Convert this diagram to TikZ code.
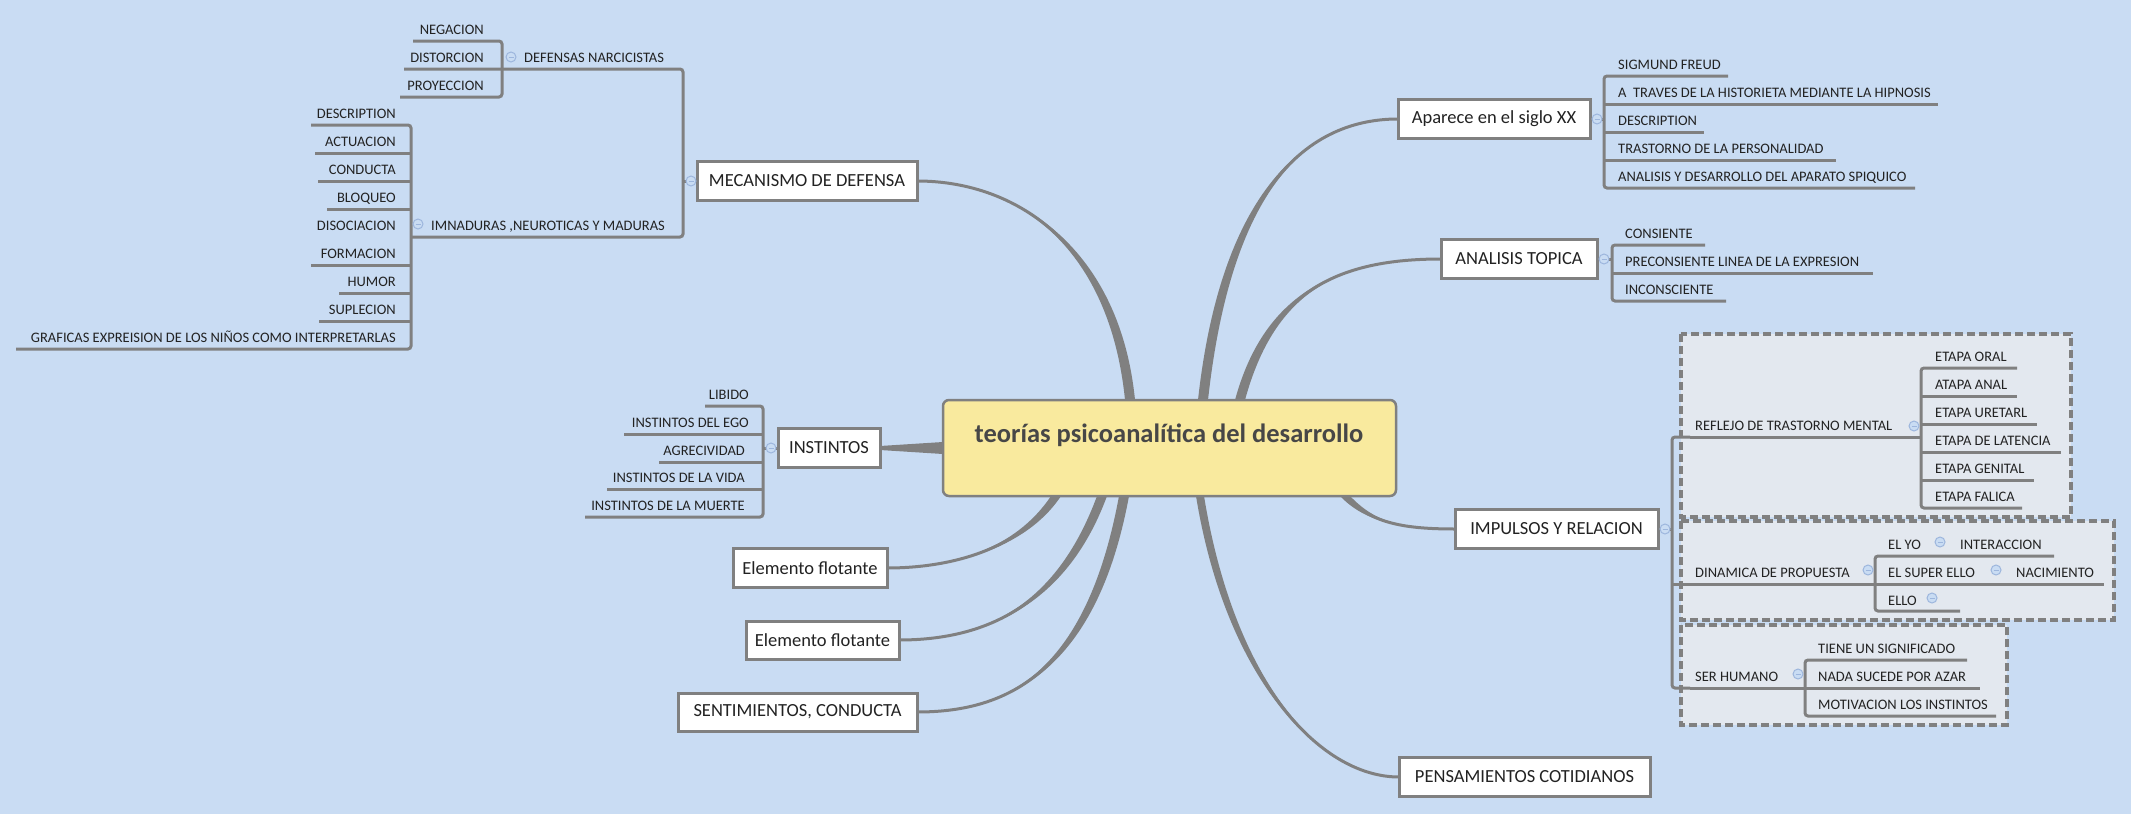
\documentclass[tikz,border=0pt]{standalone}
\usepackage{fontspec}
\setmainfont{Carlito}
\definecolor{bg}{HTML}{C9DCF3}
\definecolor{ln}{HTML}{808080}
\definecolor{cbox}{HTML}{F9EA9E}
\definecolor{dbox}{HTML}{E3E8EF}
\definecolor{tog}{HTML}{9DB6DD}
\definecolor{txt}{HTML}{222222}
\tikzset{
 lbl/.style={inner sep=0pt,font=\fontsize{14.5}{15}\selectfont,text=txt},
 tline/.style={draw=ln,line width=3pt,rounded corners=3pt},
 bbox/.style={draw=ln,line width=3pt,fill=white,inner sep=0pt,font=\fontsize{18.5}{19}\selectfont,text=txt},
 dash box/.style={draw=ln,line width=3.5pt,dash pattern=on 8pt off 4pt,fill=dbox},
}
\newcommand\tog[3]{\node[circle,draw=tog,fill=bg,inner sep=0pt,minimum size=10pt,line width=1pt] (#1) at (#2,#3) {};\draw[tog,line width=1pt] (#2-2.5,#3) -- (#2+2.5,#3);}
\newcommand\taper[9]{\fill[ln] (#1-#9,#2) .. controls (#5-#9,#6) and (#7,#8) .. (#3,#4) .. controls (#7,#8) and (#5+#9,#6) .. (#1+#9,#2) -- cycle;
 \draw[ln,line width=3pt] (#1,#2) .. controls (#5,#6) and (#7,#8) .. (#3,#4);}
\begin{document}
\begin{tikzpicture}[x=1pt,y=-1pt]
\fill[bg] (0,0) rectangle (2131,814);
\useasboundingbox (0,0) rectangle (2131,814);

% dashed group boxes
\draw[dash box] (1681,334) rectangle (2071,517);
\draw[dash box] (1681,521) rectangle (2114,620);
\draw[dash box] (1681,625) rectangle (2007,725);

% connectors from centre
\taper{1130}{400}{917}{181}{1115}{250}{1020}{181}{5}
\taper{1203}{400}{1398}{119}{1225}{200}{1300}{119}{5}
\taper{1240}{400}{1441}{259}{1270}{290}{1340}{259}{5}
\taper{1345}{496}{1455}{529}{1370}{522}{1400}{529}{5}
\taper{1200}{496}{1399}{777}{1230}{680}{1320}{777}{4}
\fill[ln] (943,442) -- (880,446) -- (880,450) -- (943,454) -- cycle;
\taper{1056}{496}{887}{568}{1020}{550}{950}{568}{5}
\taper{1102}{496}{899}{640}{1060}{610}{980}{640}{5}
\taper{1124}{496}{917}{712}{1090}{680}{1000}{712}{5}

% centre
\node[draw=ln,line width=2.5pt,fill=cbox,rounded corners=6pt,minimum width=453pt,minimum height=96pt,inner sep=0pt] (c) at (1169.5,448) {};
\node[inner sep=0pt,font=\fontsize{26.5}{27}\bfseries,text=black!72] (title) at (1169,435) {teorías psicoanalítica del desarrollo};

% main branch boxes
\node[bbox,minimum width=220pt,minimum height=39pt] (mec) at (807,181) {MECANISMO DE DEFENSA};
\node[bbox,minimum width=192pt,minimum height=39pt] (apa) at (1494,119) {Aparece en el siglo XX};
\node[bbox,minimum width=156pt,minimum height=39pt] (ana) at (1519,259) {ANALISIS TOPICA};
\node[bbox,minimum width=203pt,minimum height=39pt] (imp) at (1556.5,529) {IMPULSOS Y RELACION};
\node[bbox,minimum width=251pt,minimum height=39pt] (pen) at (1524.5,777) {PENSAMIENTOS COTIDIANOS};
\node[bbox,minimum width=102pt,minimum height=39pt] (ins) at (829,448) {INSTINTOS};
\node[bbox,minimum width=154pt,minimum height=39pt] (el1) at (810,568) {Elemento flotante};
\node[bbox,minimum width=153pt,minimum height=38pt] (el2) at (822.5,640) {Elemento flotante};
\node[bbox,minimum width=239pt,minimum height=38pt] (sen) at (797.5,712) {SENTIMIENTOS, CONDUCTA};

% ---------- MECANISMO DE DEFENSA
\draw[tline] (mec.west) -- (683,181);
\draw[tline] (413,41) -- (502,41) -- (502,97) -- (400,97);
\draw[tline] (404,69) -- (683,69) -- (683,237) -- (411,237);
\draw[tline] (311,125) -- (411,125) -- (411,349) -- (16,349);
\foreach \y/\x in {153/315,181/318,209/327,265/311,293/339,321/319} \draw[tline] (\x,\y) -- (411,\y);
\node[lbl,anchor=base east] (n1) at (484,34) {NEGACION};
\node[lbl,anchor=base east] (n2) at (484,62) {DISTORCION};
\node[lbl,anchor=base east] (n3) at (484,90) {PROYECCION};
\node[lbl,anchor=base west] (dn) at (524,62) {DEFENSAS NARCICISTAS};
\node[lbl,anchor=base west] (im) at (431,230) {IMNADURAS ,NEUROTICAS Y MADURAS};
\foreach \t [count=\i] in {DESCRIPTION,ACTUACION,CONDUCTA,BLOQUEO,DISOCIACION,FORMACION,HUMOR,SUPLECION,GRAFICAS EXPREISION DE LOS NIÑOS COMO INTERPRETARLAS}
  \node[lbl,anchor=base east] (m\i) at (396,90+28*\i) {\t};
\tog{t1}{691}{181}\tog{t2}{511}{57}\tog{t3}{418}{224}

% ---------- Aparece
\draw[tline] (apa.east) -- (1604,119);
\draw[tline] (1728,76) -- (1604,76) -- (1604,188) -- (1915,188);
\foreach \y/\x in {104/1938,132/1704,160/1836} \draw[tline] (1604,\y) -- (\x,\y);
\foreach \t [count=\i] in {SIGMUND FREUD,A\ \ TRAVES DE LA HISTORIETA MEDIANTE LA HIPNOSIS,DESCRIPTION,TRASTORNO DE LA PERSONALIDAD,ANALISIS Y DESARROLLO DEL APARATO SPIQUICO}
  \node[lbl,anchor=base west] (a\i) at (1618,41+28*\i) {\t};
\tog{t4}{1597}{119}

% ---------- ANALISIS TOPICA
\draw[tline] (ana.east) -- (1612,259);
\draw[tline] (1705,245) -- (1612,245) -- (1612,301) -- (1726,301);
\draw[tline] (1612,273) -- (1873,273);
\foreach \t [count=\i] in {CONSIENTE,PRECONSIENTE LINEA DE LA EXPRESION,INCONSCIENTE}
  \node[lbl,anchor=base west] (b\i) at (1625,210+28*\i) {\t};
\tog{t5}{1604}{259}

% ---------- IMPULSOS Y RELACION
\draw[tline] (imp.east) -- (1672,529);
\draw[tline] (1690,437) -- (1672,437) -- (1672,688) -- (1690,688);
\draw[tline] (1672,584) -- (1690,584);
\draw[tline] (1690,437) -- (1921,437);
\draw[tline] (2017,368) -- (1921,368) -- (1921,508) -- (2022,508);
\foreach \y/\x in {396/2017,424/2037,452/2061,480/2034} \draw[tline] (1921,\y) -- (\x,\y);
\node[lbl,anchor=base west] (r0) at (1695,430) {REFLEJO DE TRASTORNO MENTAL};
\foreach \t [count=\i] in {ETAPA ORAL,ATAPA ANAL,ETAPA URETARL,ETAPA DE LATENCIA,ETAPA GENITAL,ETAPA FALICA}
  \node[lbl,anchor=base west] (r\i) at (1935,333+28*\i) {\t};
\draw[tline] (1690,584) -- (2104,584);
\draw[tline] (2054,556) -- (1875,556) -- (1875,611) -- (1960,611);
\node[lbl,anchor=base west] (d0) at (1695,577) {DINAMICA DE PROPUESTA};
\node[lbl,anchor=base west] (d1) at (1888,549) {EL YO};
\node[lbl,anchor=base west] (d1a) at (1960,549) {INTERACCION};
\node[lbl,anchor=base west] (d2) at (1888,577) {EL SUPER ELLO};
\node[lbl,anchor=base west] (d2a) at (2016,577) {NACIMIENTO};
\node[lbl,anchor=base west] (d3) at (1888,605) {ELLO};
\draw[tline] (1690,688) -- (1805,688);
\draw[tline] (1967,660) -- (1805,660) -- (1805,716) -- (1996,716);
\draw[tline] (1805,688) -- (1980,688);
\node[lbl,anchor=base west] (s0) at (1695,681) {SER HUMANO};
\foreach \t [count=\i] in {TIENE UN SIGNIFICADO,NADA SUCEDE POR AZAR,MOTIVACION LOS INSTINTOS}
  \node[lbl,anchor=base west] (s\i) at (1818,625+28*\i) {\t};
\tog{t6}{1665}{529}\tog{t7}{1914}{426}\tog{t8}{1868}{570}\tog{t9}{1940}{542}
\tog{t10}{1996}{570}\tog{t11}{1932}{598}\tog{t12}{1798}{674}

% ---------- INSTINTOS
\draw[tline] (ins.west) -- (763,448);
\draw[tline] (705,406) -- (763,406) -- (763,517) -- (585,517);
\foreach \y/\x in {434/624,462/659,489/607} \draw[tline] (\x,\y) -- (763,\y);
\node[lbl,anchor=base east] (i1) at (749,399) {LIBIDO};
\node[lbl,anchor=base east] (i2) at (749,427) {INSTINTOS DEL EGO};
\node[lbl,anchor=base east] (i3) at (745,455) {AGRECIVIDAD};
\node[lbl,anchor=base east] (i4) at (745,482) {INSTINTOS DE LA VIDA};
\node[lbl,anchor=base east] (i5) at (745,510) {INSTINTOS DE LA MUERTE};
\tog{t13}{771}{448}
\end{tikzpicture}
\end{document}
